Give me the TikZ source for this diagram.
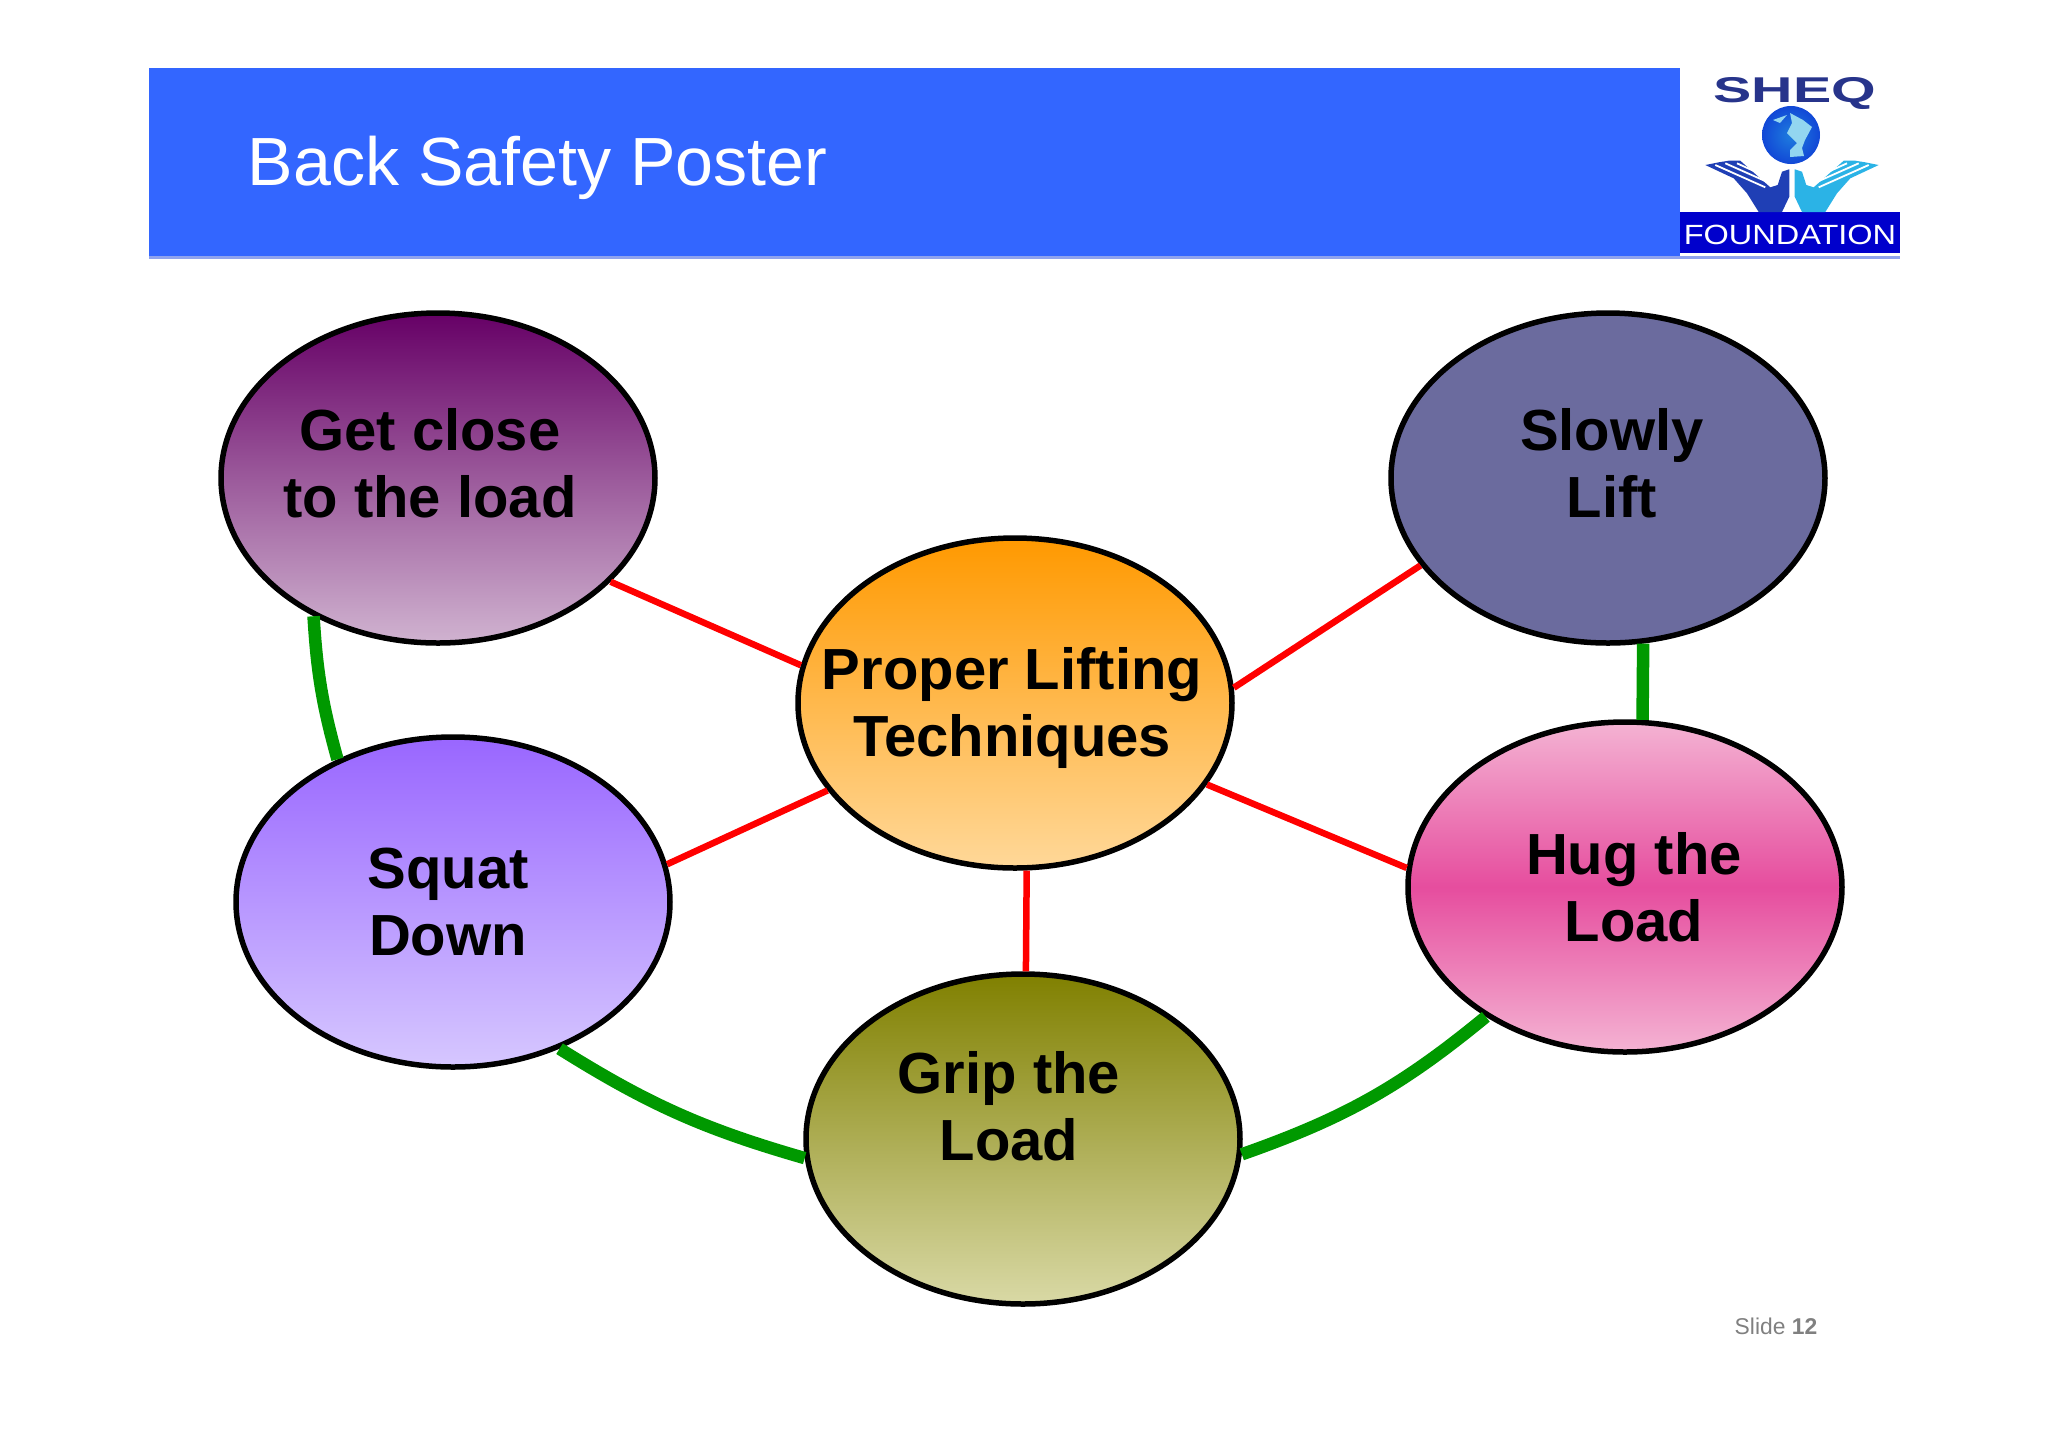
\documentclass[tikz,border=0pt]{standalone}
\usepackage{fontspec}
\setmainfont{Liberation Sans}
\usetikzlibrary{shapes.geometric}

\definecolor{headerblue}{HTML}{3366FF}
\definecolor{underline}{HTML}{8FA3EE}
\definecolor{sheqblue}{HTML}{27348B}
\definecolor{barblue}{HTML}{0000CC}
\definecolor{handdark}{HTML}{1F3FB5}
\definecolor{handlight}{HTML}{2BB3E6}
\definecolor{landblue}{HTML}{93D6F0}
\definecolor{linkred}{HTML}{FF0000}
\definecolor{linkgreen}{HTML}{009900}
\definecolor{footgray}{HTML}{808080}
\definecolor{plumtop}{HTML}{660066}
\definecolor{plumbot}{HTML}{D0B3D0}
\definecolor{slate}{HTML}{6B6B9E}
\definecolor{ambertop}{HTML}{FF9900}
\definecolor{amberbot}{HTML}{FFD899}
\definecolor{lilactop}{HTML}{9966FF}
\definecolor{lilacbot}{HTML}{D6C7FF}
\definecolor{pinkedge}{HTML}{F4B3D3}
\definecolor{pinkmid}{HTML}{E64D9E}
\definecolor{olivetop}{HTML}{808000}
\definecolor{olivebot}{HTML}{D9D9A6}

\newcommand*{\pagew}{20.48}
\newcommand*{\pageh}{14.48}

\begin{document}
\begin{tikzpicture}
[
	bubble/.style={ellipse,draw=black,line width=0.055cm,inner sep=0pt,minimum width=4.34cm,minimum height=3.30cm},
	bubbletext/.style={align=center,font=\fontsize{16.5}{19}\selectfont\bfseries},
	spoke/.style={linkred,line width=0.065cm},
	rim/.style={linkgreen,line width=0.125cm}
]

	\useasboundingbox (0,0) rectangle (\pagew,-\pageh);

	% header
	\fill[underline] (1.49,-2.56) rectangle (19.00,-2.59);
	\fill[headerblue] (1.49,-0.68) rectangle (16.80,-2.56);
	\node[white,anchor=base west,inner sep=0pt,font=\fontsize{19.4}{23}\selectfont] (title) at (2.47,-1.85) {Back Safety Poster};

	% logo
	\fill[barblue] (16.80,-2.12) rectangle (19.00,-2.53);
	\node[white,inner sep=0pt,font=\fontsize{7.9}{9}\selectfont] (foundation) at (17.90,-2.345) {\scalebox{1.17}[1]{FOUNDATION}};
	\node[sheqblue,inner sep=0pt,font=\fontsize{10.2}{11}\selectfont\bfseries] (sheq) at (17.95,-0.93) {\scalebox{1.6}[1]{SHEQ}};
	\shade[inner color=handlight!70!barblue,outer color=barblue!60!handlight] (17.91,-1.35) circle (0.29);
	\fill[landblue] (17.90,-1.13) -- (18.03,-1.20) -- (18.12,-1.27) -- (18.05,-1.40) -- (18.02,-1.48) -- (18.04,-1.56) -- (17.90,-1.57) -- (17.90,-1.50) -- (17.97,-1.43) -- (17.87,-1.33) -- (17.92,-1.23) -- cycle;
	\fill[landblue] (17.73,-1.20) -- (17.87,-1.15) -- (17.80,-1.23) -- cycle;
	\foreach \side/\col in {1/handdark,-1/handlight}
	{
		\begin{scope}[shift={(17.92,-1.00)},xscale=\side]
			\fill[\col] (-0.867,-0.65) -- (-0.583,-0.783) -- (-0.45,-0.933) -- (-0.333,-1.12) -- (-0.10,-1.12) -- (-0.027,-0.967) -- (-0.027,-0.693) -- (-0.10,-0.717) -- (-0.143,-0.85) -- (-0.217,-0.873) -- (-0.517,-0.607) -- (-0.633,-0.607) -- (-0.733,-0.623) -- cycle;
			\draw[white,line width=0.018cm] (-0.767,-0.65) -- (-0.267,-0.873);
			\draw[white,line width=0.018cm] (-0.667,-0.633) -- (-0.217,-0.833);
			\draw[white,line width=0.018cm] (-0.55,-0.633) -- (-0.183,-0.80);
		\end{scope}
	}

	% bubbles
	\node[bubble,top color=plumtop,bottom color=plumbot] (getclose) at (4.38,-4.78) {};
	\node[bubble,fill=slate] (slowly) at (16.08,-4.78) {};
	\node[bubble,top color=ambertop,bottom color=amberbot] (lifting) at (10.15,-7.03) {};
	\node[bubble,top color=lilactop,bottom color=lilacbot] (squat) at (4.53,-9.02) {};
	\node[bubble,top color=pinkedge,bottom color=pinkedge,middle color=pinkmid] (hug) at (16.25,-8.87) {};
	\node[bubble,top color=olivetop,bottom color=olivebot] (grip) at (10.23,-11.39) {};

	% labels
	\node[bubbletext] (getclosetext) at (4.30,-4.63) {Get close\\to the load};
	\node[bubbletext] (slowlytext) at (16.12,-4.63) {Slowly\\Lift};
	\node[bubbletext] (liftingtext) at (10.12,-7.08) {Proper Lifting\\Techniques};
	\node[bubbletext] (squattext) at (4.48,-9.02) {Squat\\Down};
	\node[bubbletext] (hugtext) at (16.34,-8.87) {Hug the\\Load};
	\node[bubbletext] (griptext) at (10.09,-11.06) {Grip the\\Load};

	% links
	\draw[spoke] (getclose.-31) -- (lifting.170);
	\draw[spoke] (slowly.-155) -- (lifting.4);
	\draw[spoke] (squat.10.5) -- (lifting.205);
	\draw[spoke] (hug.175) -- (lifting.-23);
	\draw[spoke] (grip.89.6) -- (lifting.-86.8);
	\draw[rim] (getclose.228) to[bend right=6] (squat.129);
	\draw[rim] (slowly.-78.5) -- (hug.84.3);
	\draw[rim] (squat.-54) to[bend right=8] (grip.185);
	\draw[rim] (grip.-4) to[bend right=10] (hug.223);

	% footer
	\node[footgray,anchor=base west,inner sep=0pt,font=\fontsize{6.5}{8}\selectfont] (slidenum) at (17.34,-13.34) {Slide \textbf{12}};

\end{tikzpicture}
\end{document}
